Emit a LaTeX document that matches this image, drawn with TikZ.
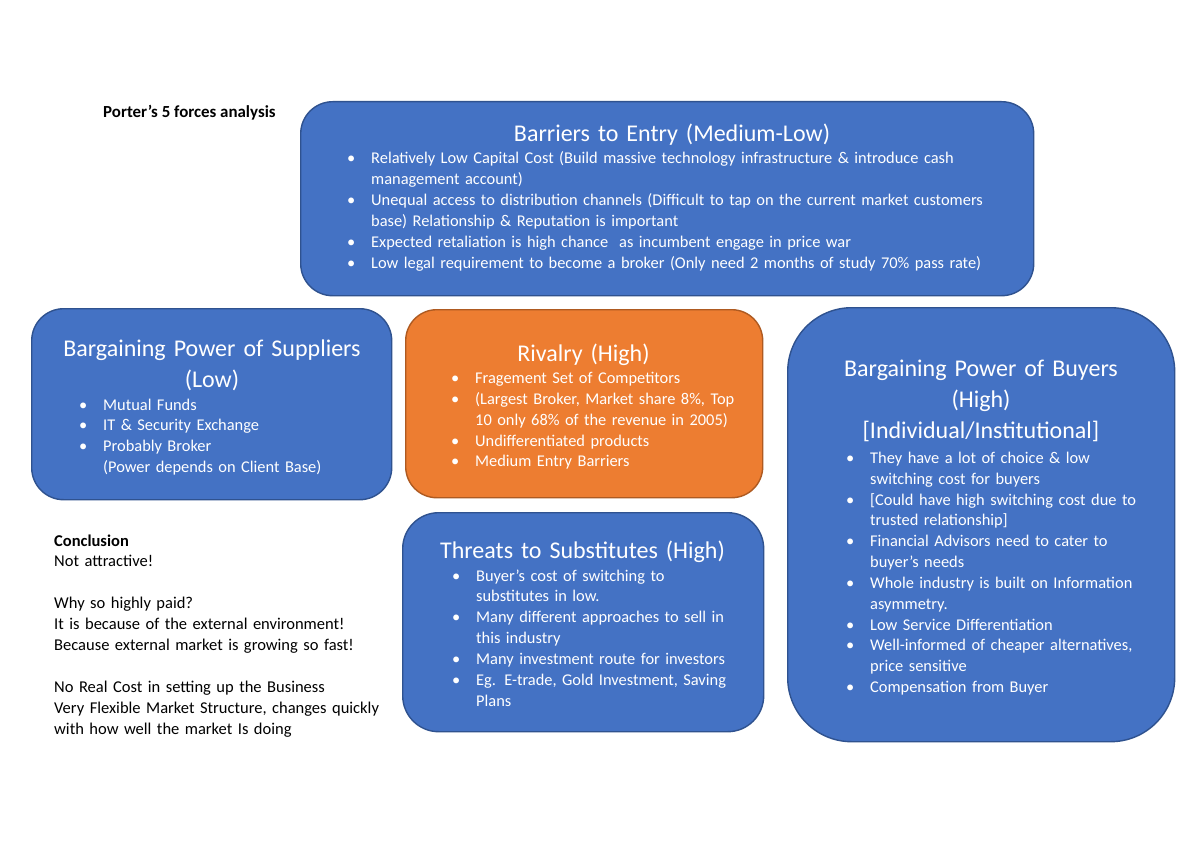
\documentclass[tikz,border=0pt]{standalone}
\usepackage{fontspec}
\setmainfont{Carlito}
\definecolor{bluefill}{HTML}{4472C4}
\definecolor{blueline}{HTML}{2F528F}
\definecolor{orfill}{HTML}{ED7D31}
\definecolor{orline}{HTML}{AE5A21}
\newcommand\bul{\leavevmode\llap{\textbullet\hspace{16pt}}}
\tikzset{
  bbox/.style={draw=blueline, fill=bluefill, line width=1.4pt, inner sep=0pt, anchor=north west},
  obox/.style={draw=orline, fill=orfill, line width=1.4pt, inner sep=0pt, anchor=north west},
  ttl/.style={text=white, font=\fontsize{24}{31}\selectfont, inner sep=0pt, anchor=base, align=center, text width=420pt},
  body/.style={text=white, font=\fontsize{16.4}{20.85}\selectfont, inner sep=0pt, anchor=base west, align=left},
  note/.style={text=black, font=\fontsize{16.5}{20.9}\selectfont, inner sep=0pt, anchor=base west, align=left, text width=340pt}
}
\begin{document}
\begin{tikzpicture}[x=1pt,y=-1pt]
\useasboundingbox (0,0) rectangle (1200,848);
\fill[white] (0,0) rectangle (1200,848);

% boxes
\node[bbox, minimum width=733pt, minimum height=194pt, rounded corners=32pt] (barriers) at (300,101) {};
\node[bbox, minimum width=360pt, minimum height=191pt, rounded corners=32pt] (suppliers) at (31,308) {};
\node[obox, minimum width=357pt, minimum height=188pt, rounded corners=31pt] (rivalry) at (405,309) {};
\node[bbox, minimum width=361pt, minimum height=219pt, rounded corners=36pt] (threats) at (402,512) {};
\node[bbox, minimum width=387pt, minimum height=434pt, rounded corners=64pt] (buyers) at (787,307) {};

% heading
\node[text=black, font=\fontsize{16.9}{20}\selectfont\bfseries, inner sep=0pt, anchor=base west] (porter) at (103,118) {Porter’s 5 forces analysis};

% barriers
\node[ttl, text width=600pt] (barT) at (672,141.5) {Barriers to Entry (Medium-Low)};
\node[body, text width=680pt] (barB) at (371,164) {\bul Relatively Low Capital Cost (Build massive technology infrastructure \& introduce cash\\
management account)\\
\bul Unequal access to distribution channels (Difficult to tap on the current market customers\\
base) Relationship \& Reputation is important\\
\bul Expected retaliation is high chance\ \ as incumbent engage in price war\\
\bul Low legal requirement to become a broker (Only need 2 months of study 70\% pass rate)};

% suppliers
\node[ttl] (supT) at (212,356) {Bargaining Power of Suppliers\\(Low)};
\node[body, text width=280pt] (supB) at (103,410) {\bul Mutual Funds\\
\bul IT \& Security Exchange\\
\bul Probably Broker\\
(Power depends on Client Base)};

% rivalry
\node[ttl] (rivT) at (583.5,361.5) {Rivalry (High)};
\node[body, text width=280pt] (rivB) at (475,383.5) {\bul Fragement Set of Competitors\\
\bul (Largest Broker, Market share 8\%, Top\\
10 only 68\% of the revenue in 2005)\\
\bul Undifferentiated products\\
\bul Medium Entry Barriers};

% threats
\node[ttl] (thrT) at (582.5,558.3) {Threats to Substitutes (High)};
\node[body, text width=280pt] (thrB) at (476,581) {\bul Buyer’s cost of switching to\\
substitutes in low.\\
\bul Many different approaches to sell in\\
this industry\\
\bul Many investment route for investors\\
\bul Eg. E-trade, Gold Investment, Saving\\
Plans};

% buyers
\node[ttl] (buyT) at (981,376) {Bargaining Power of Buyers\\(High)\\{[}Individual/Institutional{]}};
\node[body, text width=300pt] (buyB) at (870,463.3) {\bul They have a lot of choice \& low\\
switching cost for buyers\\
\bul {[}Could have high switching cost due to\\
trusted relationship{]}\\
\bul Financial Advisors need to cater to\\
buyer’s needs\\
\bul Whole industry is built on Information\\
asymmetry.\\
\bul Low Service Differentiation\\
\bul Well-informed of cheaper alternatives,\\
price sensitive\\
\bul Compensation from Buyer};

% conclusion
\node[note] (concl) at (54,546) {\textbf{Conclusion}\\
Not attractive!\\[20.9pt]
Why so highly paid?\\
It is because of the external environment!\\
Because external market is growing so fast!\\[20.9pt]
No Real Cost in setting up the Business\\
Very Flexible Market Structure, changes quickly\\
with how well the market Is doing};
\end{tikzpicture}
\end{document}
